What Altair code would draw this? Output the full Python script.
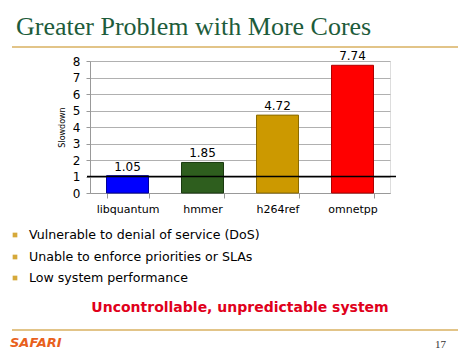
import altair as alt
import pandas as pd

benchmarks = ["libquantum", "hmmer", "h264ref", "omnetpp"]
slowdowns = [1.05, 1.85, 4.72, 7.74]
bar_colors = ["#0000ff", "#2e5e1e", "#cc9900", "#ff0000"]
bar_strokes = ["#00009a", "#1a3a10", "#8a6a00", "#b00000"]
title_text = "Greater Problem with More Cores"
bullets = ["Vulnerable to denial of service (DoS)",
           "Unable to enforce priorities or SLAs",
           "Low system performance"]
bullet_y = [235, 257, 278]
tagline = "Uncontrollable, unpredictable system"
footer_left = "SAFARI"
footer_right = "17"

# plot origin on page
OX, OY = 90, 61
TOTAL_W, TOTAL_H = 458, 346

df = pd.DataFrame({"bench": benchmarks, "value": slowdowns,
                   "label": [f"{v:.2f}" for v in slowdowns]})

xaxis = alt.Axis(title=None, labelAngle=0, labelFontSize=11, labelFont="DejaVu Sans",
                 labelColor="#000", domainColor="#999", tickColor="#999",
                 tickBand="extent", tickSize=5, labelPadding=5)
yaxis = alt.Axis(title="Slowdown", titleFontSize=8, titleFont="DejaVu Sans",
                 titleFontWeight="normal", titleColor="#000", titlePadding=6,
                 values=list(range(0, 9)), labelOverlap=False, labelFontSize=12,
                 labelFont="DejaVu Sans", labelColor="#000",
                 gridColor="#b0b0b0", domainColor="#999", tickColor="#999",
                 tickSize=4, labelPadding=6)
xscale = alt.Scale(paddingInner=0.44, paddingOuter=0.22)
yscale = alt.Scale(domain=[0, 8], nice=False)

bars = alt.Chart(df).mark_bar(strokeWidth=1).encode(
    x=alt.X("bench:N", sort=benchmarks, scale=xscale, axis=xaxis),
    y=alt.Y("value:Q", scale=yscale, axis=yaxis),
    color=alt.Color("bench:N", scale=alt.Scale(domain=benchmarks, range=bar_colors), legend=None),
    stroke=alt.Stroke("bench:N", scale=alt.Scale(domain=benchmarks, range=bar_strokes), legend=None),
)
labels = alt.Chart(df).mark_text(dy=-9, fontSize=12, font="DejaVu Sans", color="#000").encode(
    x=alt.X("bench:N", sort=benchmarks, scale=xscale, axis=xaxis),
    y=alt.Y("value:Q", scale=yscale, axis=yaxis),
    text="label:N")

ref = alt.Chart(pd.DataFrame({"value": [1]})).mark_rule(color="#000", strokeWidth=1.6).encode(
    y=alt.Y("value:Q", scale=yscale, axis=yaxis), x=alt.value(-3), x2=alt.value(306))

def txt(t, px, py, **kw):
    return alt.Chart(pd.DataFrame({"t": [t]})).mark_text(**kw).encode(
        text="t:N", x=alt.value(px - OX), y=alt.value(py - OY))

layers = [bars, labels, ref]
layers.append(txt(title_text, 16, 35, align="left", baseline="alphabetic",
                  font="Liberation Serif", fontSize=26, color="#1d5c3b"))
for yy in [47, 330]:
    layers.append(alt.Chart(pd.DataFrame({"a": [0]})).mark_rule(color="#d9b061", strokeWidth=1.5).encode(
        x=alt.value(12 - OX), x2=alt.value(458 - OX), y=alt.value(yy - OY)))
for b, yb in zip(bullets, bullet_y):
    layers.append(alt.Chart(pd.DataFrame({"a": [0]})).mark_square(size=22, color="#d6a93a", opacity=1).encode(
        x=alt.value(15 - OX), y=alt.value(yb - OY)))
    layers.append(txt(b, 29, yb, align="left", baseline="middle",
                      font="DejaVu Sans", fontSize=12.6, color="#000"))
layers.append(txt(tagline, 240, 308, align="center", baseline="middle",
                  font="DejaVu Sans", fontSize=14, fontWeight="bold", color="#e0001b"))
layers.append(txt(footer_left, 10, 343, align="left", baseline="middle",
                  font="DejaVu Sans", fontSize=13, fontWeight="bold", fontStyle="italic",
                  color="#e8601c"))
layers.append(txt(footer_right, 446, 345, align="right", baseline="middle",
                  font="Liberation Serif", fontSize=11, color="#333"))

chart = alt.layer(*layers).properties(
    width=300, height=132,
    autosize=alt.AutoSizeParams(type="none"),
    padding={"left": OX - 8, "top": OY - 8,
             "right": TOTAL_W - (OX - 8) - 300,
             "bottom": TOTAL_H - (OY - 8) - 132},
).configure_view(stroke=None).configure(background="white")

chart.save("out.html", embed_options={"renderer": "svg", "actions": False})
